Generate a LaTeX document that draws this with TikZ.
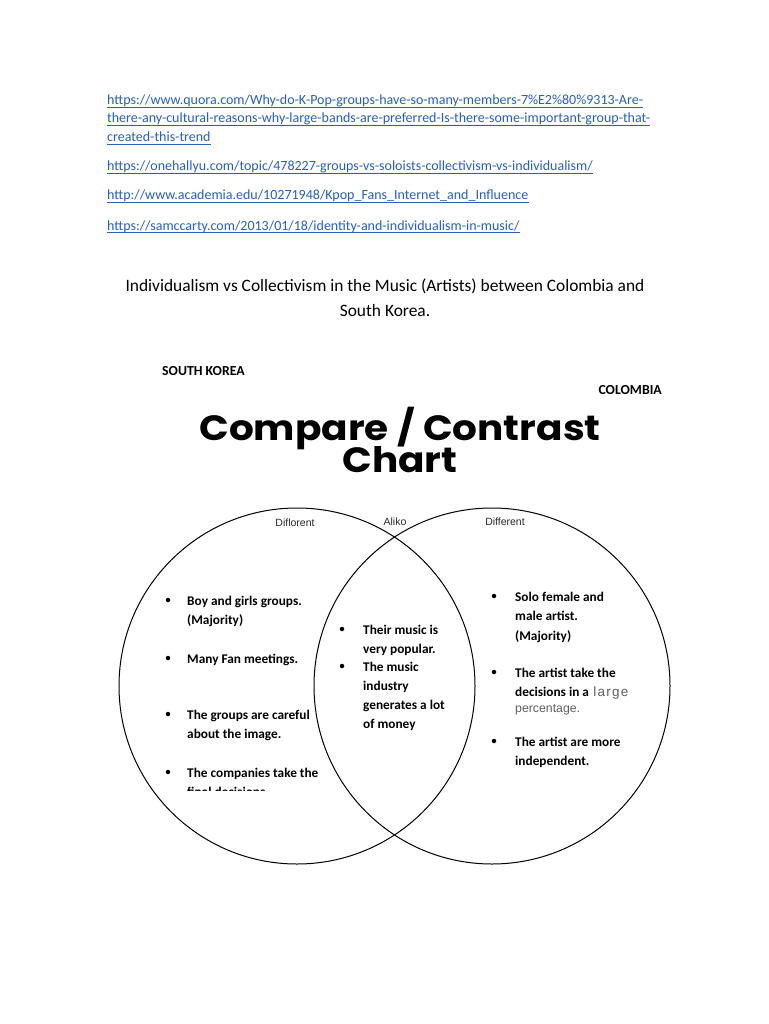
\documentclass[tikz,border=0pt]{standalone}
\usepackage{fontspec}
\setmainfont{Carlito}
\newfontfamily\chartfont{Poppins}
\newfontfamily\arialfont{Liberation Sans}
\newfontfamily\arialspaced[LetterSpace=9]{Liberation Sans}
\definecolor{linkblue}{RGB}{40,95,190}
\definecolor{labgray}{RGB}{40,40,40}
\definecolor{softgray}{RGB}{95,95,95}
\begin{document}
\begin{tikzpicture}[x=1pt,y=-1pt,
  url/.style={anchor=base west,inner sep=0pt,text=linkblue,font=\fontsize{14}{16}\selectfont},
  uline/.style={draw=linkblue,line width=0.7pt},
  hdr/.style={anchor=base,inner sep=0pt,font=\fontsize{17.4}{19}\selectfont},
  country/.style={anchor=base west,inner sep=0pt,font=\fontsize{13.8}{15}\selectfont\bfseries},
  circlab/.style={anchor=base,inner sep=0pt,text=labgray,font=\arialfont\fontsize{10.5}{12}\selectfont},
  item/.style={anchor=base west,inner sep=0pt,font=\fontsize{13.3}{15}\selectfont\bfseries},
  graytxt/.style={text=softgray,font=\arialfont\fontsize{12.3}{14}\selectfont},
  dotmark/.style={circle,fill=black,inner sep=0pt,minimum size=4.5pt},
  ring/.style={draw=black,line width=1pt}]
\useasboundingbox[fill=white] (0,0) rectangle (768,1024);

% links
\node[url] (u1a) at (107,105) {https://www.quora.com/Why-do-K-Pop-groups-have-so-many-members-7\%E2\%80\%9313-Are-};
\node[url] (u1b) at (107,123) {there-any-cultural-reasons-why-large-bands-are-preferred-Is-there-some-important-group-that-};
\node[url] (u1c) at (107,142) {created-this-trend};
\node[url] (u2) at (107,171) {https://onehallyu.com/topic/478227-groups-vs-soloists-collectivism-vs-individualism/};
\node[url] (u3) at (107,200) {http://www.academia.edu/10271948/Kpop\_Fans\_Internet\_and\_Influence};
\node[url] (u4) at (107,230) {https://samccarty.com/2013/01/18/identity-and-individualism-in-music/};
\foreach \n in {u1a,u1b,u1c,u2,u3,u4}
  \draw[uline] ([yshift=-2pt]\n.base west) -- ([yshift=-2pt]\n.base east);

% heading
\node[hdr] (t1) at (385,291) {Individualism vs Collectivism in the Music (Artists) between Colombia and};
\node[hdr] (t2) at (385,316) {South Korea.};

\node[country] (sk) at (162,375) {SOUTH KOREA};
\node[country,anchor=base east] (co) at (662,394) {COLOMBIA};

% chart title
\node[anchor=base,inner sep=0pt,font=\chartfont\fontsize{39}{32}\selectfont\bfseries] (ct) at (400,472)
  {\vbox{\baselineskip=32pt\lineskiplimit=-100pt\lineskip=0pt
   \halign{\hfil#\hfil\cr
   \scalebox{1}[0.9]{Compare / Contrast}\cr
   \scalebox{1}[0.9]{Chart}\cr}}};

% circles
\node[ring,circle,minimum size=356pt,inner sep=0pt] (lc) at (297,686) {};
\node[ring,circle,minimum size=356pt,inner sep=0pt] (rc) at (492,686) {};

\node[circlab] (l1) at (295,526) {Diflorent};
\node[circlab] (l2) at (395,525) {Aliko};
\node[circlab] (l3) at (505,525) {Different};

% left items
\node[dotmark] (lb1) at (168,600) {};
\node[item] (lt1) at (187,605) {Boy and girls groups.};
\node[item] (lt1b) at (187,624) {(Majority)};
\node[dotmark] (lb2) at (168,658) {};
\node[item] (lt2) at (187,663) {Many Fan meetings.};
\node[dotmark] (lb3) at (168,714) {};
\node[item] (lt3) at (187,719) {The groups are careful};
\node[item] (lt3b) at (187,738) {about the image.};
\node[dotmark] (lb4) at (168,772) {};
\node[item] (lt4) at (187,777) {The companies take the};
\begin{scope}
\clip (180,785) rectangle (330,790);
\node[item] (lt4b) at (187,796) {final decisions.};
\end{scope}

% middle items
\node[dotmark] (mb1) at (342,629) {};
\node[item] (mt1) at (363,634) {Their music is};
\node[item] (mt1b) at (363,653) {very popular.};
\node[dotmark] (mb2) at (342,666) {};
\node[item] (mt2) at (363,671) {The music};
\node[item] (mt2b) at (363,690) {industry};
\node[item] (mt2c) at (363,709) {generates a lot};
\node[item] (mt2d) at (363,728) {of money};

% right items
\node[dotmark] (rb1) at (494,596) {};
\node[item] (rt1) at (515,601) {Solo female and};
\node[item] (rt1b) at (515,620) {male artist.};
\node[item] (rt1c) at (515,640) {(Majority)};
\node[dotmark] (rb2) at (494,672) {};
\node[item] (rt2) at (515,677) {The artist take the};
\node[item] (rt2b) at (515,696) {decisions in a};
\node[anchor=base west,inner sep=0pt,text=softgray,font=\arialspaced\fontsize{13.5}{15}\selectfont] (rt2l) at ([xshift=4pt]rt2b.base east) {large};
\node[graytxt,anchor=base west,inner sep=0pt] (rt2c) at (515,712) {percentage.};
\node[dotmark] (rb3) at (494,741) {};
\node[item] (rt3) at (515,746) {The artist are more};
\node[item] (rt3b) at (515,765) {independent.};
\end{tikzpicture}
\end{document}
